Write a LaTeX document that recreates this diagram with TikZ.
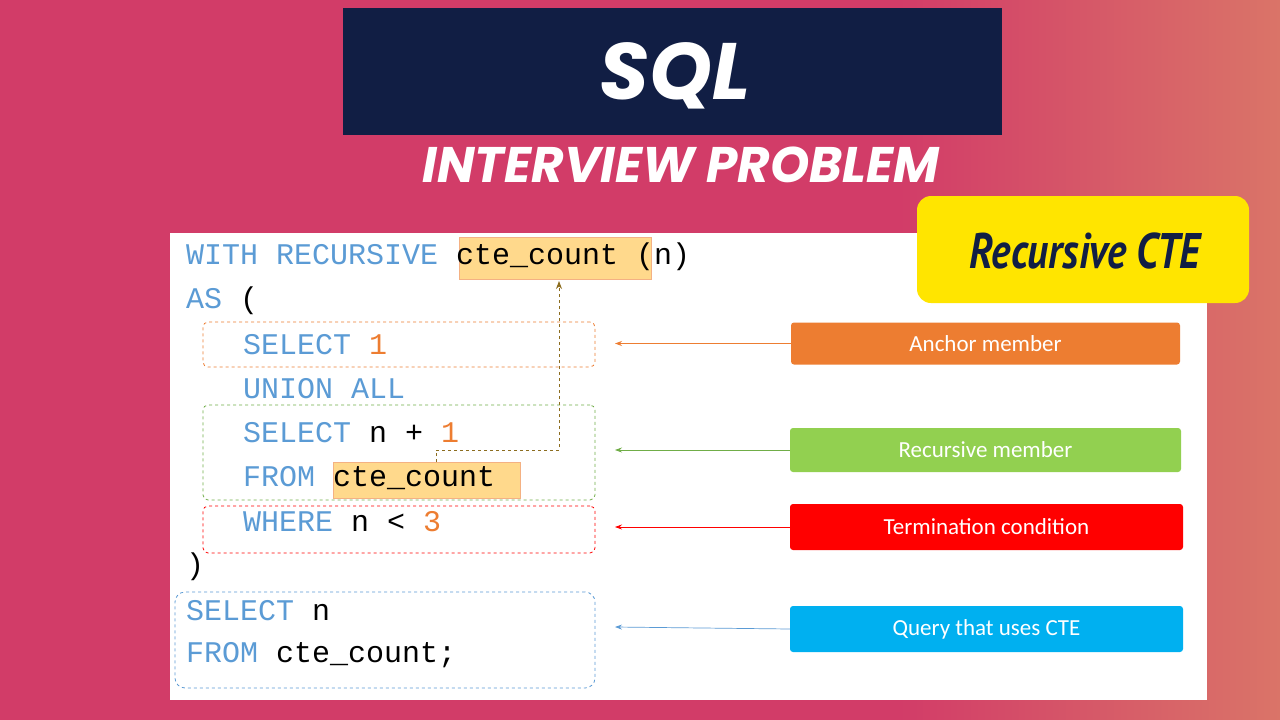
\documentclass[tikz,border=0pt]{standalone}
\usepackage{fontspec}
\setmainfont{Carlito}
\newfontfamily\codef{Liberation Mono}
\newfontfamily\titlef{Poppins}
\newfontfamily\condf{PT Sans}
\usetikzlibrary{arrows.meta}
\definecolor{bgL}{HTML}{D23C68}
\definecolor{bgR}{HTML}{DA7468}
\definecolor{navy}{HTML}{111E44}
\definecolor{kw}{HTML}{5B9BD5}
\definecolor{num}{HTML}{ED7D31}
\definecolor{hl}{HTML}{FFD98C}
\definecolor{hlb}{HTML}{F4B183}
\definecolor{cor}{HTML}{ED7D31}
\definecolor{cgr}{HTML}{92D050}
\definecolor{cgrl}{HTML}{70AD47}
\definecolor{cred}{HTML}{FF0000}
\definecolor{cbl}{HTML}{00B0F0}
\definecolor{cbll}{HTML}{5B9BD5}
\definecolor{olive}{HTML}{8C6D1F}
\definecolor{yel}{HTML}{FFE500}
\newcommand{\K}[1]{\textcolor{kw}{#1}}
\newcommand{\N}[1]{\textcolor{num}{#1}}
\begin{document}
\begin{tikzpicture}[x=1pt,y=-1pt,
  code/.style={anchor=west,inner sep=0,font=\codef\fontsize{30}{30}\selectfont},
  dbox/.style={draw,dashed,rounded corners=5pt,line width=0.8pt},
  lab/.style={rounded corners=3pt,text=white,font=\fontsize{23}{23}\selectfont,minimum height=42pt,inner sep=0},
  arr/.style={-{Stealth[length=7pt,width=5pt]},line width=0.7pt},
  hbox/.style={fill=hl,draw=hlb,line width=0.8pt,inner sep=3pt,minimum height=42pt}]
\useasboundingbox (0,0) rectangle (1280,720);
\shade[left color=bgL,right color=bgL,middle color=bgL] (0,0) rectangle (900,720);
\shade[left color=bgL,right color=bgR] (899,0) rectangle (1280,720);
\node[fill=navy,minimum width=659pt,minimum height=127pt,inner sep=0] (tb) at (672.5,71.5) {};
\node[text=white,font=\titlef\bfseries\itshape\fontsize{80}{80}\selectfont] (sql) at (675,76) {SQL};
\node[text=white,font=\titlef\bfseries\itshape\fontsize{50}{50}\selectfont] (ip) at (681,165) {INTERVIEW PROBLEM};
\node[fill=white,minimum width=1037pt,minimum height=467pt,inner sep=0] (panel) at (688.5,466.5) {};
\node[fill=yel,rounded corners=14pt,minimum width=332pt,minimum height=107pt,inner sep=0] (yb) at (1083,249.5) {};
\node[text=navy,font=\condf\bfseries\itshape\fontsize{50}{50}\selectfont,xscale=0.82] (rc) at (1085,251) {Recursive CTE};
% highlights
\node[hbox,minimum width=192pt] (h1) at (555,258) {};
\node[hbox,minimum width=187pt,minimum height=36pt] (h2) at (426.5,480) {};
% dashed boxes
\node[dbox,draw=cor,minimum width=392pt,minimum height=45pt] (b1) at (399,344.5) {};
\node[dbox,draw=cgrl,minimum width=392pt,minimum height=95pt] (b2) at (399,452.5) {};
\node[dbox,draw=cred,minimum width=392pt,minimum height=47pt] (b3) at (399,529.5) {};
\node[dbox,draw=cbll,rounded corners=10pt,minimum width=420pt,minimum height=96pt] (b4) at (385,640) {};
% code
\node[code] (l1) at (186,257) {\K{WITH RECURSIVE }cte\_count (n)};
\node[code] (l2) at (186,301) {\K{AS} (};
\node[code] (l3) at (243,345) {\K{SELECT }\N{1}};
\node[code] (l4) at (243,389) {\K{UNION ALL}};
\node[code] (l5) at (243,433) {\K{SELECT }n + \N{1}};
\node[code] (l6) at (243,478) {\K{FROM }cte\_count};
\node[code] (l7) at (243,522) {\K{WHERE }n < \N{3}};
\node[code] (l8) at (186,567) {)};
\node[code] (l9) at (186,611) {\K{SELECT }n};
\node[code] (l10) at (186,655) {\K{FROM }cte\_count;};
% recursion arrow
\coordinate (s) at (436,462);
\coordinate (e) at (559,281);
\draw[olive,dashed,line width=0.8pt,-{Stealth[length=8pt,width=6pt]}] (s) |- (559,450) -- (e);
% labels
\node[lab,fill=cor,minimum width=389pt] (a1) at (985.5,343.5) {Anchor member};
\node[lab,fill=cgr,minimum width=391pt,minimum height=44pt] (a2) at (985.5,450) {Recursive member};
\node[lab,fill=cred,minimum width=393pt,minimum height=46pt] (a3) at (986.5,527) {Termination condition};
\node[lab,fill=cbl,minimum width=393pt,minimum height=46pt] (a4) at (986.5,629) {Query that uses CTE};
\draw[arr,cor] (a1.west) -- (615,343.5);
\draw[arr,cgrl] (a2.west) -- (615,450);
\draw[arr,cred] (a3.west) -- (615,527);
\draw[arr,cbll] (a4.west) -- (615,627);
\end{tikzpicture}
\end{document}
